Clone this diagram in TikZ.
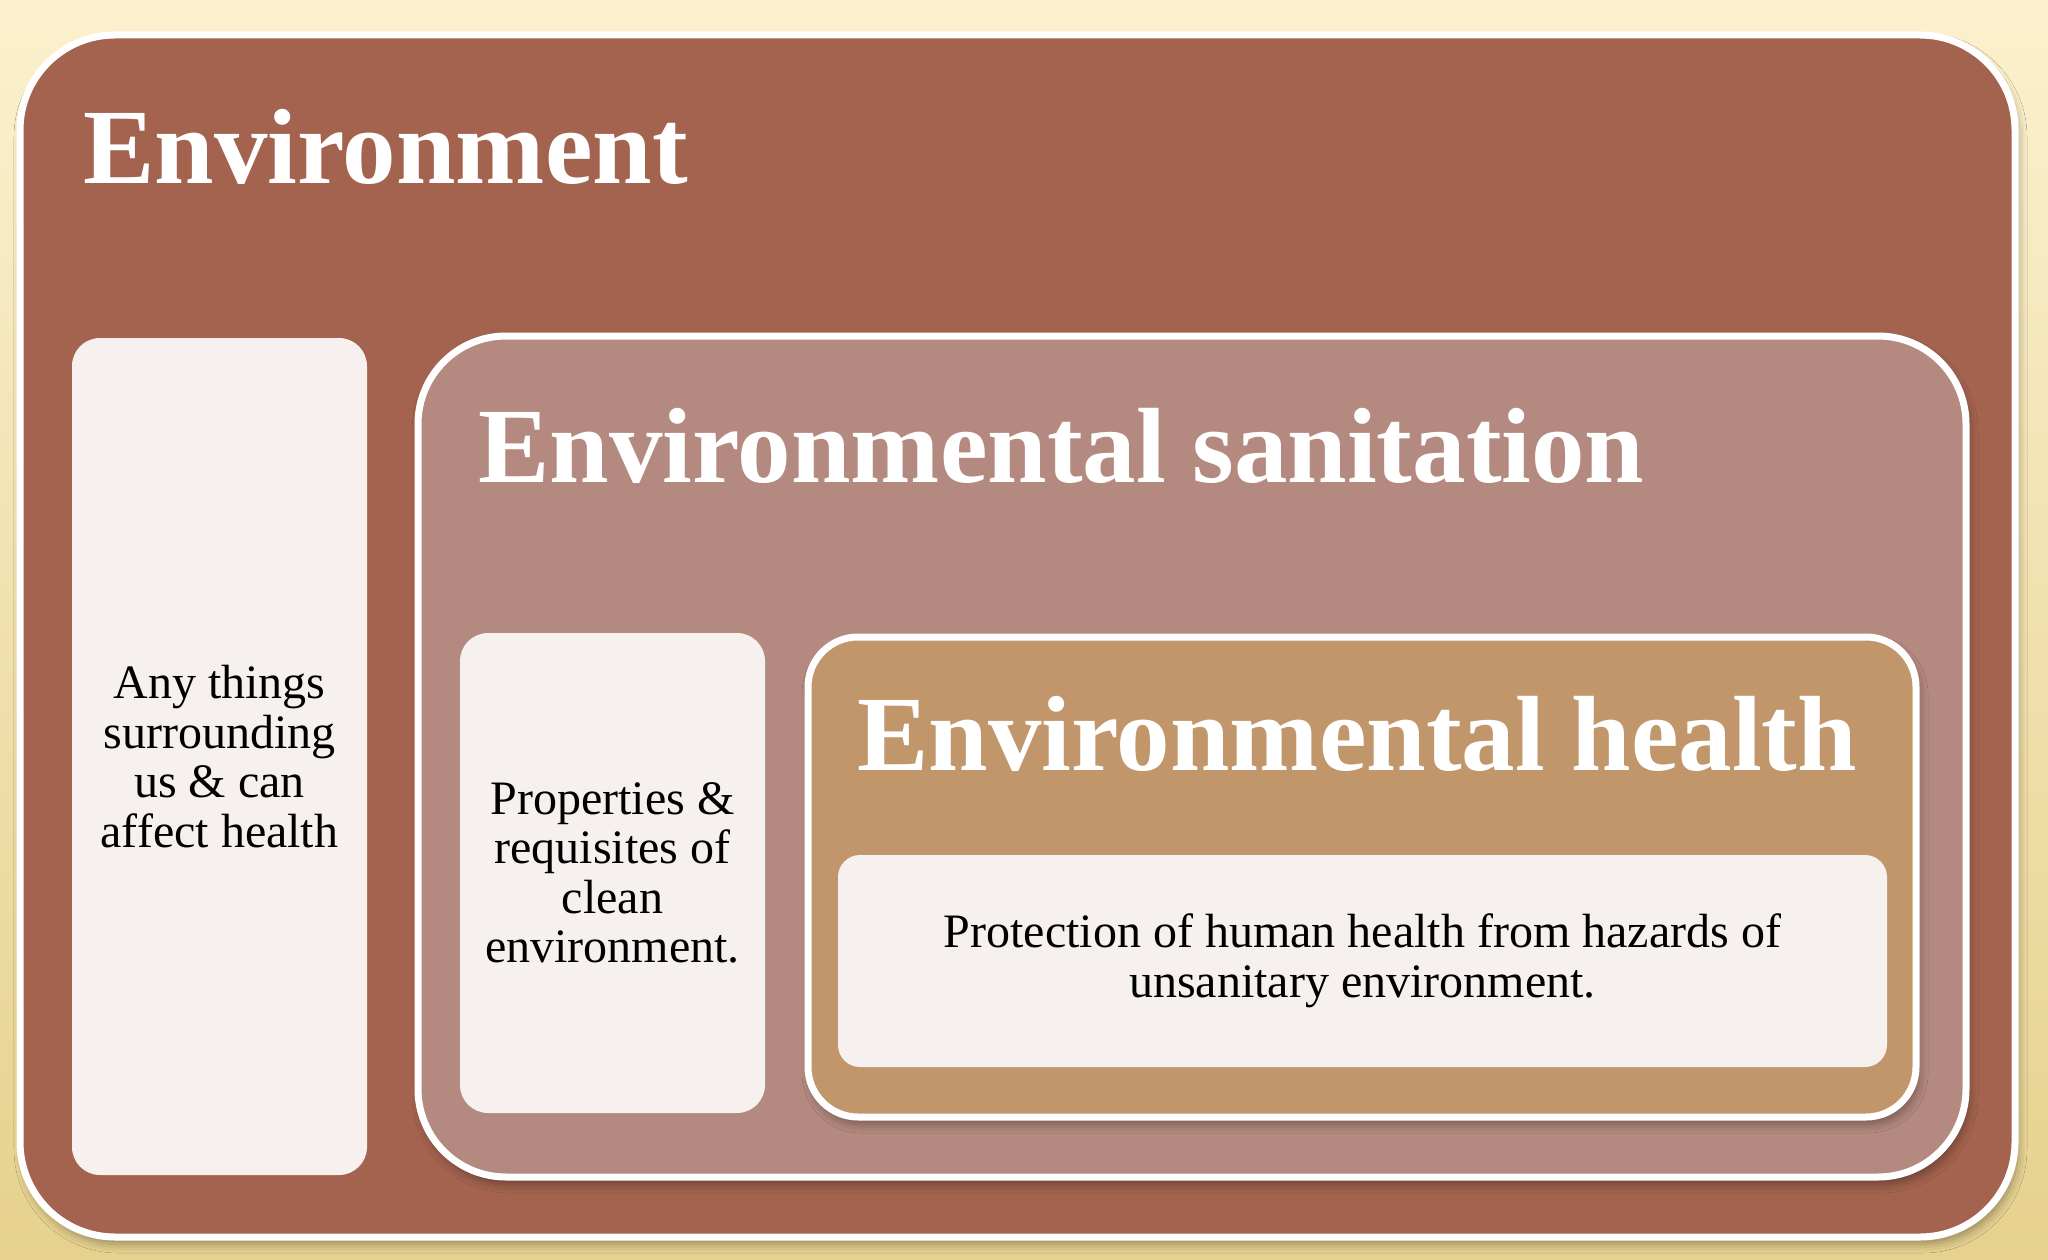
\documentclass[tikz,border=0pt]{standalone}
\usepackage{fontspec}
\setmainfont{Liberation Serif}
\usetikzlibrary{shadows.blur}
\definecolor{bgtop}{RGB}{252,240,206}
\definecolor{bgmid}{RGB}{243,228,180}
\definecolor{bgbot}{RGB}{230,209,142}
\definecolor{envc}{RGB}{164,99,79}
\definecolor{sanc}{RGB}{180,137,128}
\definecolor{healc}{RGB}{194,150,107}
\definecolor{paper}{RGB}{246,240,239}
\tikzset{
  bigbox/.style={draw=white, line width=7pt, rectangle, inner sep=0pt, outer sep=0pt, anchor=north west,
    blur shadow={shadow xshift=3pt, shadow yshift=-7pt, shadow blur radius=9pt, shadow opacity=35}},
  card/.style={fill=paper, rectangle, inner sep=0pt, outer sep=0pt, anchor=north west, align=center,
    font=\fontsize{48}{49.5}\selectfont, text=black},
  title/.style={anchor=base west, text=white, font=\bfseries\fontsize{107}{120}\selectfont, inner sep=0pt}
}
\begin{document}
\begin{tikzpicture}[x=1pt,y=-1pt]
\useasboundingbox (0,0) rectangle (2048,1260);
\shade[top color=bgtop, middle color=bgmid, bottom color=bgbot] (0,0) rectangle (2048,1260);
% outer environment box
\node[bigbox, fill=envc, rounded corners=95pt, minimum width=1995pt, minimum height=1202pt] (env) at (20,35) {};
\node[title] (envt) at (83,184) {Environment};
\node[card, rounded corners=28pt, minimum width=295pt, minimum height=837pt] (envcard) at (72,338)
  {Any things\\surrounding\\us \& can\\affect health};
% sanitation box
\node[bigbox, fill=sanc, rounded corners=88pt, minimum width=1548pt, minimum height=841pt] (san) at (418,336) {};
\node[title] (sant) at (478,482) {Environmental sanitation};
\node[card, rounded corners=28pt, minimum width=305pt, minimum height=480pt] (sancard) at (460,633)
  {Properties \&\\requisites of\\clean\\environment.};
% health box
\node[bigbox, fill=healc, rounded corners=50pt, minimum width=1108pt, minimum height=480pt] (heal) at (808,637) {};
\node[title] (healt) at (857,770) {Environmental health};
\node[card, rounded corners=22pt, minimum width=1049pt, minimum height=212pt] (healcard) at (838,855)
  {Protection of human health from hazards of\\unsanitary environment.};
\end{tikzpicture}
\end{document}
